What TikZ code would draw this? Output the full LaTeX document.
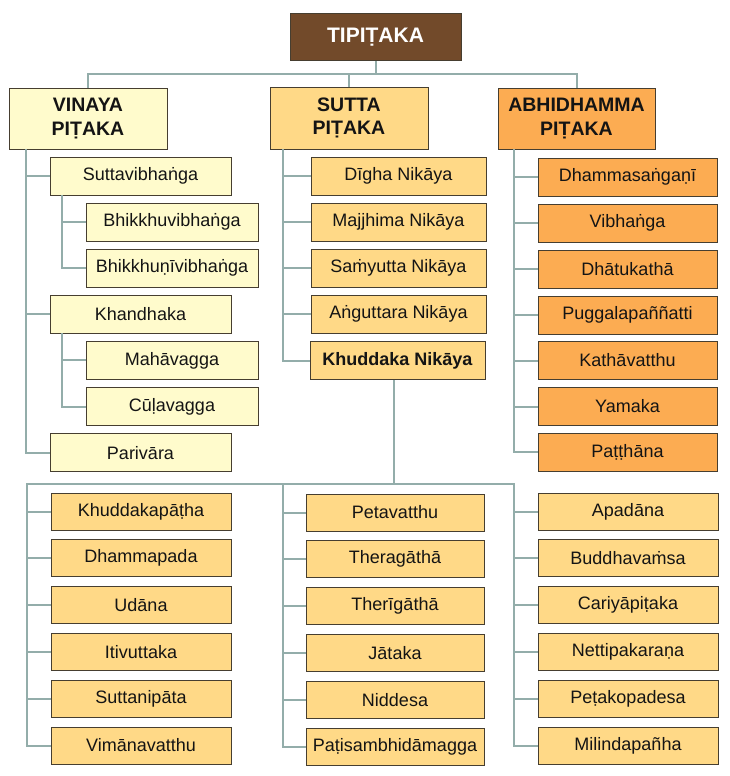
\documentclass[tikz,border=0pt]{standalone}
\usepackage{fontspec}
\setmainfont{Liberation Sans}
\definecolor{conncol}{RGB}{147,173,170}
\definecolor{bordcol}{RGB}{70,62,48}
\definecolor{tipcol}{RGB}{114,74,42}
\definecolor{vincol}{RGB}{255,251,204}
\definecolor{sutcol}{RGB}{255,217,135}
\definecolor{abhcol}{RGB}{252,172,82}
\definecolor{txtcol}{RGB}{20,20,20}
\tikzset{
  conn/.style={draw=conncol, line width=2pt},
  box/.style={draw=bordcol, line width=1pt, rectangle, inner sep=0pt, outer sep=0pt,
    text=txtcol, font=\fontsize{18}{21}\selectfont, align=center},
  headbox/.style={box, font=\bfseries\fontsize{19.5}{23.5}\selectfont},
  vbox/.style={box, fill=vincol},
  sbox/.style={box, fill=sutcol},
  abox/.style={box, fill=abhcol},
}
\begin{document}
\begin{tikzpicture}[x=1pt,y=-1pt]
\useasboundingbox (0,0) rectangle (729,776);
% top
\node[headbox, fill=tipcol, text=white, font=\bfseries\fontsize{21}{24}\selectfont,
  minimum width=171pt, minimum height=47pt] (tip) at (375.5,37.5) {TIPIṬAKA};
\node[headbox, fill=vincol, minimum width=158pt, minimum height=61pt] (vin) at (88,118.5) {VINAYA\\PIṬAKA};
\node[headbox, fill=sutcol, minimum width=158pt, minimum height=62pt] (sut) at (349,118) {SUTTA\\PIṬAKA};
\node[headbox, fill=abhcol, minimum width=157pt, minimum height=61pt] (abh) at (576.5,118.5) {ABHIDHAMMA\\PIṬAKA};
\coordinate (bus1) at (0,74);
\draw[conn] (tip.south) -- (tip.south |- bus1);
\draw[conn] (vin.north) -- (vin.north |- bus1) -| (abh.north);
\draw[conn] (sut.north) -- (sut.north |- bus1);

% left column
\coordinate (vsp) at (26,0);
\coordinate (ssp) at (62,0);
\tikzset{v1/.style={vbox, minimum width=181pt, minimum height=38pt},
         v2/.style={vbox, minimum width=172pt, minimum height=38pt}}
\node[v1] (sv) at (140.5,176) {Suttavibhaṅga};
\node[v2] (bv) at (172,222.1) {Bhikkhuvibhaṅga};
\node[v2] (bnv) at (172,268.2) {Bhikkhuṇīvibhaṅga};
\node[v1] (kh) at (140.5,314.3) {Khandhaka};
\node[v2] (mv) at (172,360.4) {Mahāvagga};
\node[v2] (cv) at (172,406.5) {Cūḷavagga};
\node[v1] (pv) at (140.5,452.6) {Parivāra};
\draw[conn] (vin.south -| vsp) |- (pv.west);
\draw[conn] (sv.west) -- (sv.west -| vsp);
\draw[conn] (kh.west) -- (kh.west -| vsp);
\draw[conn] (sv.south -| ssp) |- (bnv.west);
\draw[conn] (bv.west) -- (bv.west -| ssp);
\draw[conn] (kh.south -| ssp) |- (cv.west);
\draw[conn] (mv.west) -- (mv.west -| ssp);

% middle column
\coordinate (msp) at (283,0);
\tikzset{m1/.style={sbox, minimum width=175pt, minimum height=38pt}}
\node[m1] (dn) at (398.5,176) {Dīgha Nikāya};
\node[m1] (mn) at (398.5,222.1) {Majjhima Nikāya};
\node[m1] (sn) at (398.5,268.2) {Saṁyutta Nikāya};
\node[m1] (an) at (398.5,314.3) {Aṅguttara Nikāya};
\node[m1, font=\bfseries\fontsize{18}{21}\selectfont] (kn) at (397.5,360.9) {Khuddaka Nikāya};
\draw[conn] (sut.south -| msp) |- (kn.west);
\foreach \n in {dn,mn,sn,an} \draw[conn] (\n.west) -- (\n.west -| msp);

% right column
\coordinate (asp) at (514,0);
\tikzset{a1/.style={abox, minimum width=179pt, minimum height=38pt}}
\node[a1] (ds) at (627.5,177) {Dhammasaṅgaṇī};
\node[a1] (vb) at (627.5,223) {Vibhaṅga};
\node[a1] (dk) at (627.5,269) {Dhātukathā};
\node[a1] (pp) at (627.5,315) {Puggalapaññatti};
\node[a1] (kv) at (627.5,360.5) {Kathāvatthu};
\node[a1] (ym) at (627.5,406.5) {Yamaka};
\node[a1] (pt) at (627.5,452) {Paṭṭhāna};
\draw[conn] (abh.south -| asp) |- (pt.west);
\foreach \n in {ds,vb,dk,pp,kv,ym} \draw[conn] (\n.west) -- (\n.west -| asp);

% bottom section
\coordinate (bus2) at (0,484);
\coordinate (bl) at (27,0);
\coordinate (bm) at (283,0);
\coordinate (br) at (514,0);
\draw[conn] ([xshift=-4pt]kn.south) -- ([xshift=-4pt]kn.south |- bus2);
\tikzset{k1/.style={sbox, minimum width=180pt, minimum height=37pt},
         k2/.style={sbox, minimum width=178pt, minimum height=37pt}}
\node[k1] (b1) at (141,511.5) {Khuddakapāṭha};
\node[k1] (b2) at (141,558.3) {Dhammapada};
\node[k1] (b3) at (141,605.1) {Udāna};
\node[k1] (b4) at (141,651.9) {Itivuttaka};
\node[k1] (b5) at (141,698.7) {Suttanipāta};
\node[k1] (b6) at (141,745.5) {Vimānavatthu};
\node[k2] (c1) at (395,512.5) {Petavatthu};
\node[k2] (c2) at (395,559.3) {Theragāthā};
\node[k2] (c3) at (395,606.1) {Therīgāthā};
\node[k2] (c4) at (395,652.9) {Jātaka};
\node[k2] (c5) at (395,699.7) {Niddesa};
\node[k2] (c6) at (395,746.5) {Paṭisambhidāmagga};
\node[k1] (d1) at (628,511.5) {Apadāna};
\node[k1] (d2) at (628,558.3) {Buddhavaṁsa};
\node[k1] (d3) at (628,605.1) {Cariyāpiṭaka};
\node[k1] (d4) at (628,651.9) {Nettipakaraṇa};
\node[k1] (d5) at (628,698.7) {Peṭakopadesa};
\node[k1] (d6) at (628,745.5) {Milindapañha};
\draw[conn] (b6.west) -| (bus2 -| bl) -- (bus2 -| br) |- (d6.west);
\draw[conn] (bus2 -| bm) |- (c6.west);
\foreach \n in {b1,b2,b3,b4,b5} \draw[conn] (\n.west) -- (\n.west -| bl);
\foreach \n in {c1,c2,c3,c4,c5} \draw[conn] (\n.west) -- (\n.west -| bm);
\foreach \n in {d1,d2,d3,d4,d5} \draw[conn] (\n.west) -- (\n.west -| br);
\end{tikzpicture}
\end{document}
